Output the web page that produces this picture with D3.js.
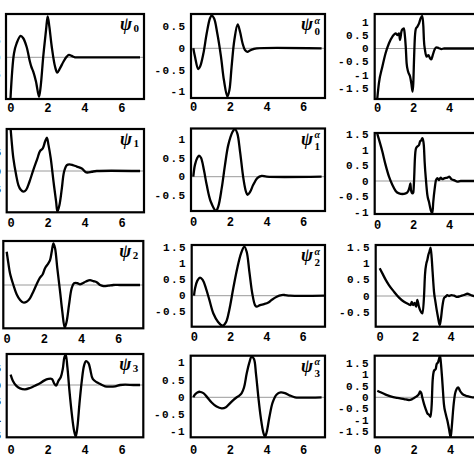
<!DOCTYPE html>
<html><head><meta charset="utf-8">
<script src="https://cdn.jsdelivr.net/npm/d3@7"></script>
<style>html,body{margin:0;padding:0;background:#fff;overflow:hidden}</style>
</head><body><svg id="c" width="474" height="474"></svg>
<script>
// ---------- data ----------
const xTicks = [0, 2, 4, 6];
const subs = ["0", "1", "2", "3"];

const psi0 = [[0,-1.21],[0.19,0.12],[0.33,0.41],[0.55,0.63],[0.69,0.56],[0.87,0.31],[1.05,-0.13],[1.14,-0.30],[1.23,-0.42],[1.38,-0.72],[1.54,-1.16],[1.63,-0.86],[1.77,0.02],[1.92,0.80],[2.01,1.20],[2.10,0.90],[2.23,0.31],[2.41,-0.28],[2.53,-0.45],[2.68,-0.32],[2.86,-0.13],[3.04,0.02],[3.16,0.07],[3.31,0.04],[3.49,0],[3.76,0],[7.0,0]];
const psi0a = [[0,0],[0.09,-0.19],[0.27,-0.48],[0.37,-0.42],[0.55,-0.12],[0.73,0.34],[0.91,0.69],[1.00,0.75],[1.13,0.69],[1.31,0.34],[1.51,-0.19],[1.67,-0.73],[1.86,-1.11],[1.97,-0.96],[2.09,-0.42],[2.24,0.19],[2.42,0.55],[2.55,0.38],[2.69,0.11],[2.82,-0.04],[2.95,-0.08],[3.09,-0.05],[3.27,-0.02],[3.46,0],[7.0,0]];
const psi0b = [[0,-1.88],[0.09,-1.31],[0.28,-0.69],[0.46,-0.18],[0.65,0.20],[0.84,0.45],[1.02,0.57],[1.11,0.51],[1.21,0.57],[1.26,0.32],[1.34,0.64],[1.39,0.72],[1.48,0.76],[1.52,0.57],[1.58,0.07],[1.63,-0.56],[1.71,-0.87],[1.82,-1.06],[1.89,-1.31],[1.96,-1.63],[2.00,-1.31],[2.04,-0.43],[2.09,0.45],[2.15,0.76],[2.22,0.82],[2.32,0.95],[2.41,1.14],[2.50,1.23],[2.56,0.82],[2.59,0.32],[2.65,-0.06],[2.74,-0.31],[2.84,-0.25],[2.93,-0.37],[3.00,-0.41],[3.08,-0.25],[3.19,-0.03],[3.30,0.04],[3.43,0.01],[3.56,-0.02],[3.71,0],[7.3,0]];

const psi1 = [[0,1.15],[0.06,0.79],[0.15,0.34],[0.30,-0.11],[0.42,-0.38],[0.55,-0.51],[0.69,-0.56],[0.84,-0.51],[1.02,-0.29],[1.23,0.03],[1.45,0.34],[1.59,0.54],[1.74,0.61],[1.86,0.79],[1.96,0.90],[2.05,0.70],[2.17,0.34],[2.32,-0.29],[2.46,-0.83],[2.53,-1.10],[2.64,-0.92],[2.77,-0.47],[2.89,-0.02],[3.04,0.16],[3.18,0.18],[3.36,0.16],[3.58,0.12],[3.85,0.07],[4.03,-0.02],[4.15,-0.04],[4.39,-0.02],[4.66,0],[7.0,0]];
const psi1a = [[0,0],[0.09,0.32],[0.22,0.51],[0.31,0.57],[0.42,0.51],[0.58,0.18],[0.73,-0.22],[0.95,-0.67],[1.24,-0.92],[1.36,-0.81],[1.55,-0.31],[1.73,0.32],[1.91,0.86],[2.15,1.22],[2.27,1.29],[2.40,1.17],[2.55,0.68],[2.73,-0.04],[2.87,-0.40],[2.96,-0.49],[3.09,-0.42],[3.27,-0.22],[3.49,-0.04],[3.73,0.02],[4.00,0],[7.0,0]];
const psi1b = [[0,1.52],[0.28,0.95],[0.46,0.52],[0.65,0.14],[0.84,-0.13],[1.02,-0.32],[1.21,-0.40],[1.39,-0.42],[1.58,-0.40],[1.72,-0.32],[1.80,-0.18],[1.84,-0.08],[1.87,-0.29],[1.95,-0.40],[2.00,-0.37],[2.04,-0.02],[2.09,0.73],[2.15,1.05],[2.22,1.11],[2.32,1.16],[2.37,1.27],[2.45,1.32],[2.50,1.38],[2.56,1.27],[2.59,1.11],[2.63,0.62],[2.71,-0.02],[2.78,-0.45],[2.87,-0.67],[2.97,-0.94],[3.06,-1.04],[3.11,-0.67],[3.19,-0.24],[3.26,0.03],[3.34,0.09],[3.43,0.03],[3.52,0.11],[3.61,0.06],[3.74,0.09],[3.89,0.11],[4.00,0.14],[4.11,0.06],[4.26,0.03],[4.45,-0.02],[4.63,0],[7.3,0]];

const psi2 = [[0,0.95],[0.09,0.62],[0.18,0.33],[0.36,0],[0.54,-0.27],[0.72,-0.43],[0.89,-0.50],[1.07,-0.48],[1.25,-0.38],[1.43,-0.19],[1.61,0.02],[1.79,0.21],[1.93,0.30],[2.06,0.48],[2.24,0.62],[2.33,0.71],[2.42,0.95],[2.51,1.19],[2.60,1.05],[2.72,0.48],[2.87,-0.19],[2.99,-0.76],[3.12,-1.22],[3.22,-1.05],[3.35,-0.57],[3.49,-0.10],[3.62,0.05],[3.80,0.05],[3.94,0.02],[4.08,0.05],[4.26,0.10],[4.48,0.14],[4.66,0.11],[4.84,0.08],[5.02,0],[5.20,-0.03],[5.46,-0.02],[5.73,0],[6.09,0],[7.17,0]];
const psi2a = [[0,0],[0.06,0.23],[0.18,0.46],[0.33,0.56],[0.48,0.49],[0.66,0.23],[0.85,-0.13],[1.07,-0.55],[1.34,-0.82],[1.58,-0.93],[1.77,-0.82],[1.95,-0.44],[2.17,0.23],[2.39,0.85],[2.60,1.31],[2.78,1.52],[2.91,1.36],[3.06,0.74],[3.22,0.07],[3.37,-0.29],[3.46,-0.34],[3.65,-0.29],[3.87,-0.26],[4.11,-0.21],[4.29,-0.13],[4.57,-0.03],[4.84,0.02],[5.03,0.02],[5.30,0],[7.3,0]];
const psi2b = [[0,0.86],[0.15,0.70],[0.34,0.50],[0.52,0.34],[0.81,0.13],[1.09,-0.05],[1.37,-0.18],[1.61,-0.25],[1.74,-0.28],[1.80,-0.18],[1.88,-0.28],[1.97,-0.21],[2.05,-0.33],[2.12,-0.12],[2.21,-0.33],[2.27,-0.43],[2.35,-0.51],[2.42,-0.54],[2.50,0.03],[2.55,0.65],[2.63,1.01],[2.68,1.11],[2.74,1.27],[2.80,1.37],[2.87,1.50],[2.93,1.17],[2.98,0.75],[3.06,0.13],[3.14,-0.18],[3.21,-0.43],[3.28,-0.64],[3.38,-0.90],[3.44,-0.74],[3.53,-0.33],[3.62,-0.07],[3.72,-0.02],[3.81,0.03],[3.90,0],[4.04,0.03],[4.19,0.01],[4.37,-0.03],[4.56,0],[4.75,0.03],[4.94,0.07],[5.13,0.03],[5.31,0],[7.3,0]];

const psi3 = [[0,0.31],[0.12,0.13],[0.30,-0.02],[0.51,-0.10],[0.78,-0.13],[1.05,-0.09],[1.32,-0.02],[1.59,0.05],[1.81,0.13],[2.04,0.18],[2.23,0.18],[2.35,0.05],[2.46,-0.02],[2.59,0.13],[2.71,0.23],[2.82,0.48],[2.91,0.83],[2.98,0.90],[3.07,0.53],[3.18,-0.17],[3.31,-0.87],[3.43,-1.36],[3.52,-1.54],[3.61,-1.26],[3.72,-0.57],[3.85,0.13],[3.97,0.58],[4.08,0.71],[4.21,0.65],[4.30,0.48],[4.44,0.18],[4.66,0.08],[4.84,0.03],[5.11,-0.04],[5.38,-0.05],[5.65,-0.04],[5.92,0],[6.19,0.01],[6.64,0],[7.0,0]];
const psi3a = [[0,0],[0.09,0.08],[0.22,0.14],[0.36,0.16],[0.55,0.12],[0.73,0.02],[1.00,-0.15],[1.27,-0.27],[1.55,-0.32],[1.78,-0.29],[1.97,-0.19],[2.18,-0.08],[2.37,0],[2.51,0.05],[2.64,0.12],[2.77,0.29],[2.91,0.68],[3.06,1.01],[3.18,1.18],[3.31,1.11],[3.42,0.68],[3.55,0],[3.68,-0.58],[3.82,-1.02],[3.91,-1.14],[4.00,-1.02],[4.15,-0.58],[4.33,-0.15],[4.55,0.08],[4.77,0.14],[5.00,0.12],[5.28,0.05],[5.55,0],[5.82,-0.01],[7.0,0]];
const psi3b = [[0,0.29],[0.18,0.22],[0.46,0.12],[0.73,0.04],[1.10,-0.03],[1.47,-0.08],[1.74,-0.12],[1.89,-0.09],[2.02,-0.03],[2.16,0.04],[2.29,0.15],[2.35,0.26],[2.42,0.18],[2.47,0],[2.57,-0.30],[2.66,-0.52],[2.75,-0.71],[2.84,-0.77],[2.93,-0.86],[2.99,-0.30],[3.04,0.74],[3.12,1.18],[3.21,1.25],[3.26,1.47],[3.34,1.55],[3.39,1.69],[3.45,1.84],[3.50,1.47],[3.57,0.74],[3.66,-0.30],[3.76,-0.74],[3.85,-1.03],[3.94,-1.40],[4.03,-1.77],[4.09,-1.33],[4.18,-0.44],[4.27,0.15],[4.36,0.37],[4.45,0.44],[4.54,0.29],[4.67,0.15],[4.86,0.07],[5.04,0.03],[5.22,0],[7.3,0]];

const ticksA = [-0.5, 0, 0.5];
const ticksB = [-1, -0.5, 0, 0.5, 1];
const ticksC = [-1.5, -1, -0.5, 0, 0.5, 1];
const ticksD = [-0.5, 0, 0.5, 1];
const ticksE = [-1, -0.5, 0, 0.5, 1, 1.5];
const ticksF = [-0.5, 0, 0.5, 1, 1.5];
const ticksG = [-1.5, -1, -0.5, 0, 0.5, 1, 1.5];
const ticksH = [-1, -0.5, 0, 0.5];
const ticksI = [-1.5, -1, -0.5, 0, 0.5];

// ---------- layout (frame box and pixel calibration) ----------
const layout = [
 {d:psi0, t:ticksA, f:[6,144,14,99],      xc:[10.5,18.5],  yc:[57.3,34],   col:0,row:0},
 {d:psi0a,t:ticksH, f:[191,325,14,98],    xc:[193.3,18.33],yc:[48.3,43.5], col:1,row:0},
 {d:psi0b,t:ticksC, f:[374.7,509,14,99],  xc:[377.3,18],   yc:[48.5,26.5], col:2,row:0},
 {d:psi1, t:ticksA, f:[6.7,144,129,212.3],xc:[10.6,18.5],  yc:[171,37],    col:0,row:1},
 {d:psi1a,t:ticksD, f:[191,325,128.5,211],xc:[193.3,18.33],yc:[176.7,37],  col:1,row:1},
 {d:psi1b,t:ticksE, f:[374.7,509,133,214],xc:[377.3,18],   yc:[181,31],    col:2,row:1},
 {d:psi2, t:ticksB, f:[3.3,143.3,241,328.3],xc:[6.7,18.6], yc:[285,35],    col:0,row:2},
 {d:psi2a,t:ticksF, f:[191.7,325,245,326.7],xc:[194,18.1], yc:[295.7,32.3],col:1,row:2},
 {d:psi2b,t:ticksF, f:[375.7,510,245,326.7],xc:[379.7,17.75],yc:[296,32.3],col:2,row:2},
 {d:psi3, t:ticksI, f:[6.7,143.3,354,437.3],xc:[10.6,18.5],yc:[385,33.5],col:0,row:3},
 {d:psi3a,t:ticksB, f:[190.7,325,355.7,437.3],xc:[193.3,18.33],yc:[397.3,34.5],col:1,row:3},
 {d:psi3b,t:ticksG, f:[374.7,509,355.7,437.3],xc:[377.3,18.2],yc:[397.3,22.6],col:2,row:3}
];
const xLabOff = [13, 15, 14.5, 16.5];
const yLabGap = [5.5, 6, 6];
const fs = 11, ls = 1.4;

const svg = d3.select("#c");
const defs = svg.append("defs");
const monoFont = "'Liberation Mono', 'DejaVu Sans Mono', monospace";
const serif = "'Liberation Serif', 'DejaVu Serif', serif";

layout.forEach((p, i) => {
  const [fx0, fx1, fy0, fy1] = p.f;
  const x = d3.scaleLinear()
    .domain([(fx0 - p.xc[0]) / p.xc[1], (fx1 - p.xc[0]) / p.xc[1]])
    .range([fx0, fx1]);
  const y = d3.scaleLinear()
    .domain([(p.yc[0] - fy1) / p.yc[1], (p.yc[0] - fy0) / p.yc[1]])
    .range([fy1, fy0]);
  const g = svg.append("g");
  defs.append("clipPath").attr("id", "cp" + i)
    .append("rect").attr("x", fx0).attr("y", fy0).attr("width", fx1 - fx0).attr("height", fy1 - fy0);

  // zero line
  g.append("line").attr("x1", fx0).attr("x2", fx1).attr("y1", y(0)).attr("y2", y(0))
    .attr("stroke", "#9a9a9a").attr("stroke-width", 1);

  // curve
  const line = d3.line().x(d => x(d[0])).y(d => y(d[1]))
    .curve(p.col === 2 ? d3.curveMonotoneX : d3.curveCatmullRom.alpha(0.5));
  g.append("path").datum(p.d).attr("d", line)
    .attr("fill", "none").attr("stroke", "#000").attr("stroke-width", 2.3)
    .attr("stroke-linejoin", "round").attr("clip-path", "url(#cp" + i + ")");

  // frame
  g.append("rect").attr("x", fx0).attr("y", fy0).attr("width", fx1 - fx0).attr("height", fy1 - fy0)
    .attr("fill", "none").attr("stroke", "#000").attr("stroke-width", 2.2);

  // x tick labels
  g.selectAll(".xt").data(xTicks).enter().append("text")
    .attr("x", d => x(d) + 0.4).attr("y", fy1 + xLabOff[p.row])
    .attr("text-anchor", "middle")
    .attr("font-family", monoFont).attr("font-weight", "bold").attr("font-size", fs + 1)
    .text(d => String(d));

  // y tick labels
  g.selectAll(".yt").data(p.t).enter().append("text")
    .attr("x", fx0 - yLabGap[p.col] + ls).attr("y", d => y(d) + 3.6)
    .attr("text-anchor", "end")
    .attr("font-family", monoFont).attr("font-weight", "bold").attr("font-size", fs)
    .attr("letter-spacing", ls)
    .text(d => String(d));

  // psi label
  const lx = fx1 - 12;
  g.append("text").attr("x", lx).attr("y", fy0 + 16)
    .attr("text-anchor", "end").attr("font-family", serif)
    .attr("font-style", "italic").attr("font-weight", "bold").attr("font-size", 18)
    .text("ψ");
  if (p.col === 0) {
    g.append("text").attr("x", lx + 1.5).attr("y", fy0 + 17.5)
      .attr("font-family", serif).attr("font-weight", "bold").attr("font-size", 11)
      .text(subs[p.row]);
  } else {
    g.append("text").attr("x", lx + 1.5).attr("y", fy0 + 9.5)
      .attr("font-family", serif).attr("font-style", "italic").attr("font-weight", "bold").attr("font-size", 10)
      .text("α");
    g.append("text").attr("x", lx + 1.5).attr("y", fy0 + 21)
      .attr("font-family", serif).attr("font-weight", "bold").attr("font-size", 11)
      .text(subs[p.row]);
  }
});
</script>
</body></html>
